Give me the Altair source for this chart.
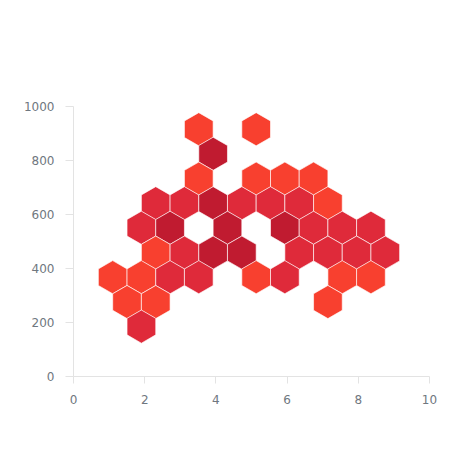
import altair as alt
import pandas as pd

# hexbin centres (x, y) and their bin level (1 = light, 2 = medium, 3 = dark)
x_vals = [3.533, 5.145,
          3.936,
          3.533, 5.145, 5.951, 6.757,
          2.324, 3.130, 3.936, 4.742, 5.548, 6.354, 7.160,
          1.921, 2.727, 4.339, 5.951, 6.757, 7.563, 8.369,
          2.324, 3.130, 3.936, 4.742, 6.354, 7.160, 7.966, 8.772,
          1.115, 1.921, 2.727, 3.533, 5.145, 5.951, 7.563, 8.369,
          1.518, 2.324, 7.160,
          1.921]
y_vals = [914, 914,
          823,
          731, 731, 731, 731,
          640, 640, 640, 640, 640, 640, 640,
          549, 549, 549, 549, 549, 549, 549,
          457, 457, 457, 457, 457, 457, 457, 457,
          366, 366, 366, 366, 366, 366, 366, 366,
          274, 274, 274,
          183]
levels = [1, 1,
          3,
          1, 1, 1, 1,
          2, 2, 3, 2, 2, 2, 1,
          2, 3, 3, 3, 2, 2, 2,
          1, 2, 3, 3, 2, 2, 2, 2,
          1, 1, 2, 2, 1, 2, 1, 1,
          1, 1, 1,
          2]

x_ticks = [0, 2, 4, 6, 8, 10]
y_ticks = [0, 200, 400, 600, 800, 1000]
level_colors = ["#f8402f", "#df2a3a", "#c01b30"]

df = pd.DataFrame({"x": x_vals, "y": y_vals, "level": levels})

hexagon = "M0,-1L0.866,-0.5L0.866,0.5L0,1L-0.866,0.5L-0.866,-0.5Z"

axis_common = dict(
    grid=False,
    domainColor="#e3e3e3",
    tickColor="#e3e3e3",
    labelColor="#6f7780",
    labelFont="DejaVu Sans",
    labelFontSize=12,
    labelFlush=False,
    format="d",
    title=None,
)

chart = alt.Chart(df).mark_point(
    shape=hexagon, filled=True, opacity=1, size=1098,
    stroke="#ffffff", strokeWidth=0.9, strokeOpacity=0.7,
).encode(
    x=alt.X("x:Q", scale=alt.Scale(domain=[0, 10], nice=False),
            axis=alt.Axis(values=x_ticks, tickSize=7, labelPadding=11, **axis_common)),
    y=alt.Y("y:Q", scale=alt.Scale(domain=[0, 1000], nice=False),
            axis=alt.Axis(values=y_ticks, tickSize=8, labelPadding=11, **axis_common)),
    color=alt.Color("level:Q", scale=alt.Scale(domain=[1, 2, 3], range=level_colors), legend=None),
).properties(
    width=356, height=270,
    autosize=alt.AutoSizeParams(type="none"),
    padding={"left": 65, "top": 98, "right": 37, "bottom": 90},
).configure_view(stroke=None)

chart.save("out.html", embed_options={"renderer": "svg", "actions": False})
